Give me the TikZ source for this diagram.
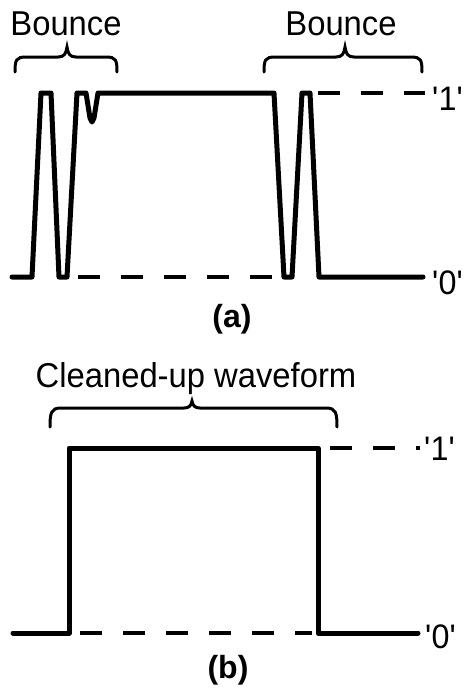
\documentclass[tikz,border=0pt]{standalone}
\usepackage{fontspec}
\setmainfont{Liberation Sans}
\newfontfamily\narrowsans[FakeStretch=0.95]{Liberation Sans}
\begin{document}
\begin{tikzpicture}[x=1pt,y=-1pt,
  wave/.style={line width=5pt, line join=round, line cap=round},
  dashline/.style={line width=4pt, dash pattern=on 22pt off 21pt},
  bracel/.style={line width=3pt, line cap=round},
  lbl/.style={inner sep=0pt, anchor=base, font=\narrowsans\fontsize{34.5}{40}\selectfont},
  lvl/.style={inner sep=0pt, anchor=base west, font=\narrowsans\fontsize{34}{40}\selectfont},
  captxt/.style={inner sep=0pt, anchor=base, font=\fontsize{32}{40}\selectfont\bfseries}]
\useasboundingbox (0,0) rectangle (474,697);
% ---------------- (a) ----------------
\node[lbl] (b1) at (66,35) {Bounce};
\node[lbl] (b2) at (341,35) {Bounce};
\draw[bracel] (15,72) .. controls (15,60) and (16,57) .. (26,57) -- (58,57)
  .. controls (64,57) and (66,54) .. (67,47) .. controls (68,54) and (70,57) .. (76,57)
  -- (106,57) .. controls (116,57) and (117,60) .. (117,72);
\draw[bracel] (264,72) .. controls (264,60) and (265,57) .. (275,57) -- (336,57)
  .. controls (342,57) and (344,54) .. (345,47) .. controls (346,54) and (348,57) .. (354,57)
  -- (411,57) .. controls (421,57) and (422,60) .. (422,72);
\draw[dashline] (78,277) -- (276,277);
\draw[dashline] (318,93) -- (425,93);
\draw[wave] (12,277) -- (32,277) -- (41,93) -- (51,93) -- (59,277) -- (67,277)
  -- (77,93) -- (86,93) -- (90,118) -- (92,122) -- (94,118) -- (98,93) -- (274,93)
  -- (284,277) -- (292,277) -- (302,93) -- (310,93) -- (319,277) -- (423,277);
\node[lvl] (a1) at (432,110) {\textquotesingle1\textquotesingle};
\node[lvl] (a0) at (432,294) {\textquotesingle0\textquotesingle};
\node[captxt] (ca) at (232,327) {(a)};
% ---------------- (b) ----------------
\node[lbl] (cw) at (196,387) {Cleaned-up waveform};
\draw[bracel] (50,427) .. controls (50,413) and (51,408) .. (61,408) -- (184,408)
  .. controls (189,408) and (191,406) .. (192,401) .. controls (193,406) and (195,408) .. (200,408)
  -- (326,408) .. controls (336,408) and (337,413) .. (337,427);
\draw[dashline] (80,633) -- (312,633);
\draw[dashline] (330,448) -- (420,448);
\draw[wave] (13,633) -- (69,633) -- (69,448) -- (318,448) -- (318,633) -- (418,633);
\node[lvl] (b1l) at (424,460) {\textquotesingle1\textquotesingle};
\node[lvl] (b0l) at (425,648) {\textquotesingle0\textquotesingle};
\node[captxt] (cb) at (228,678) {(b)};
\end{tikzpicture}
\end{document}
